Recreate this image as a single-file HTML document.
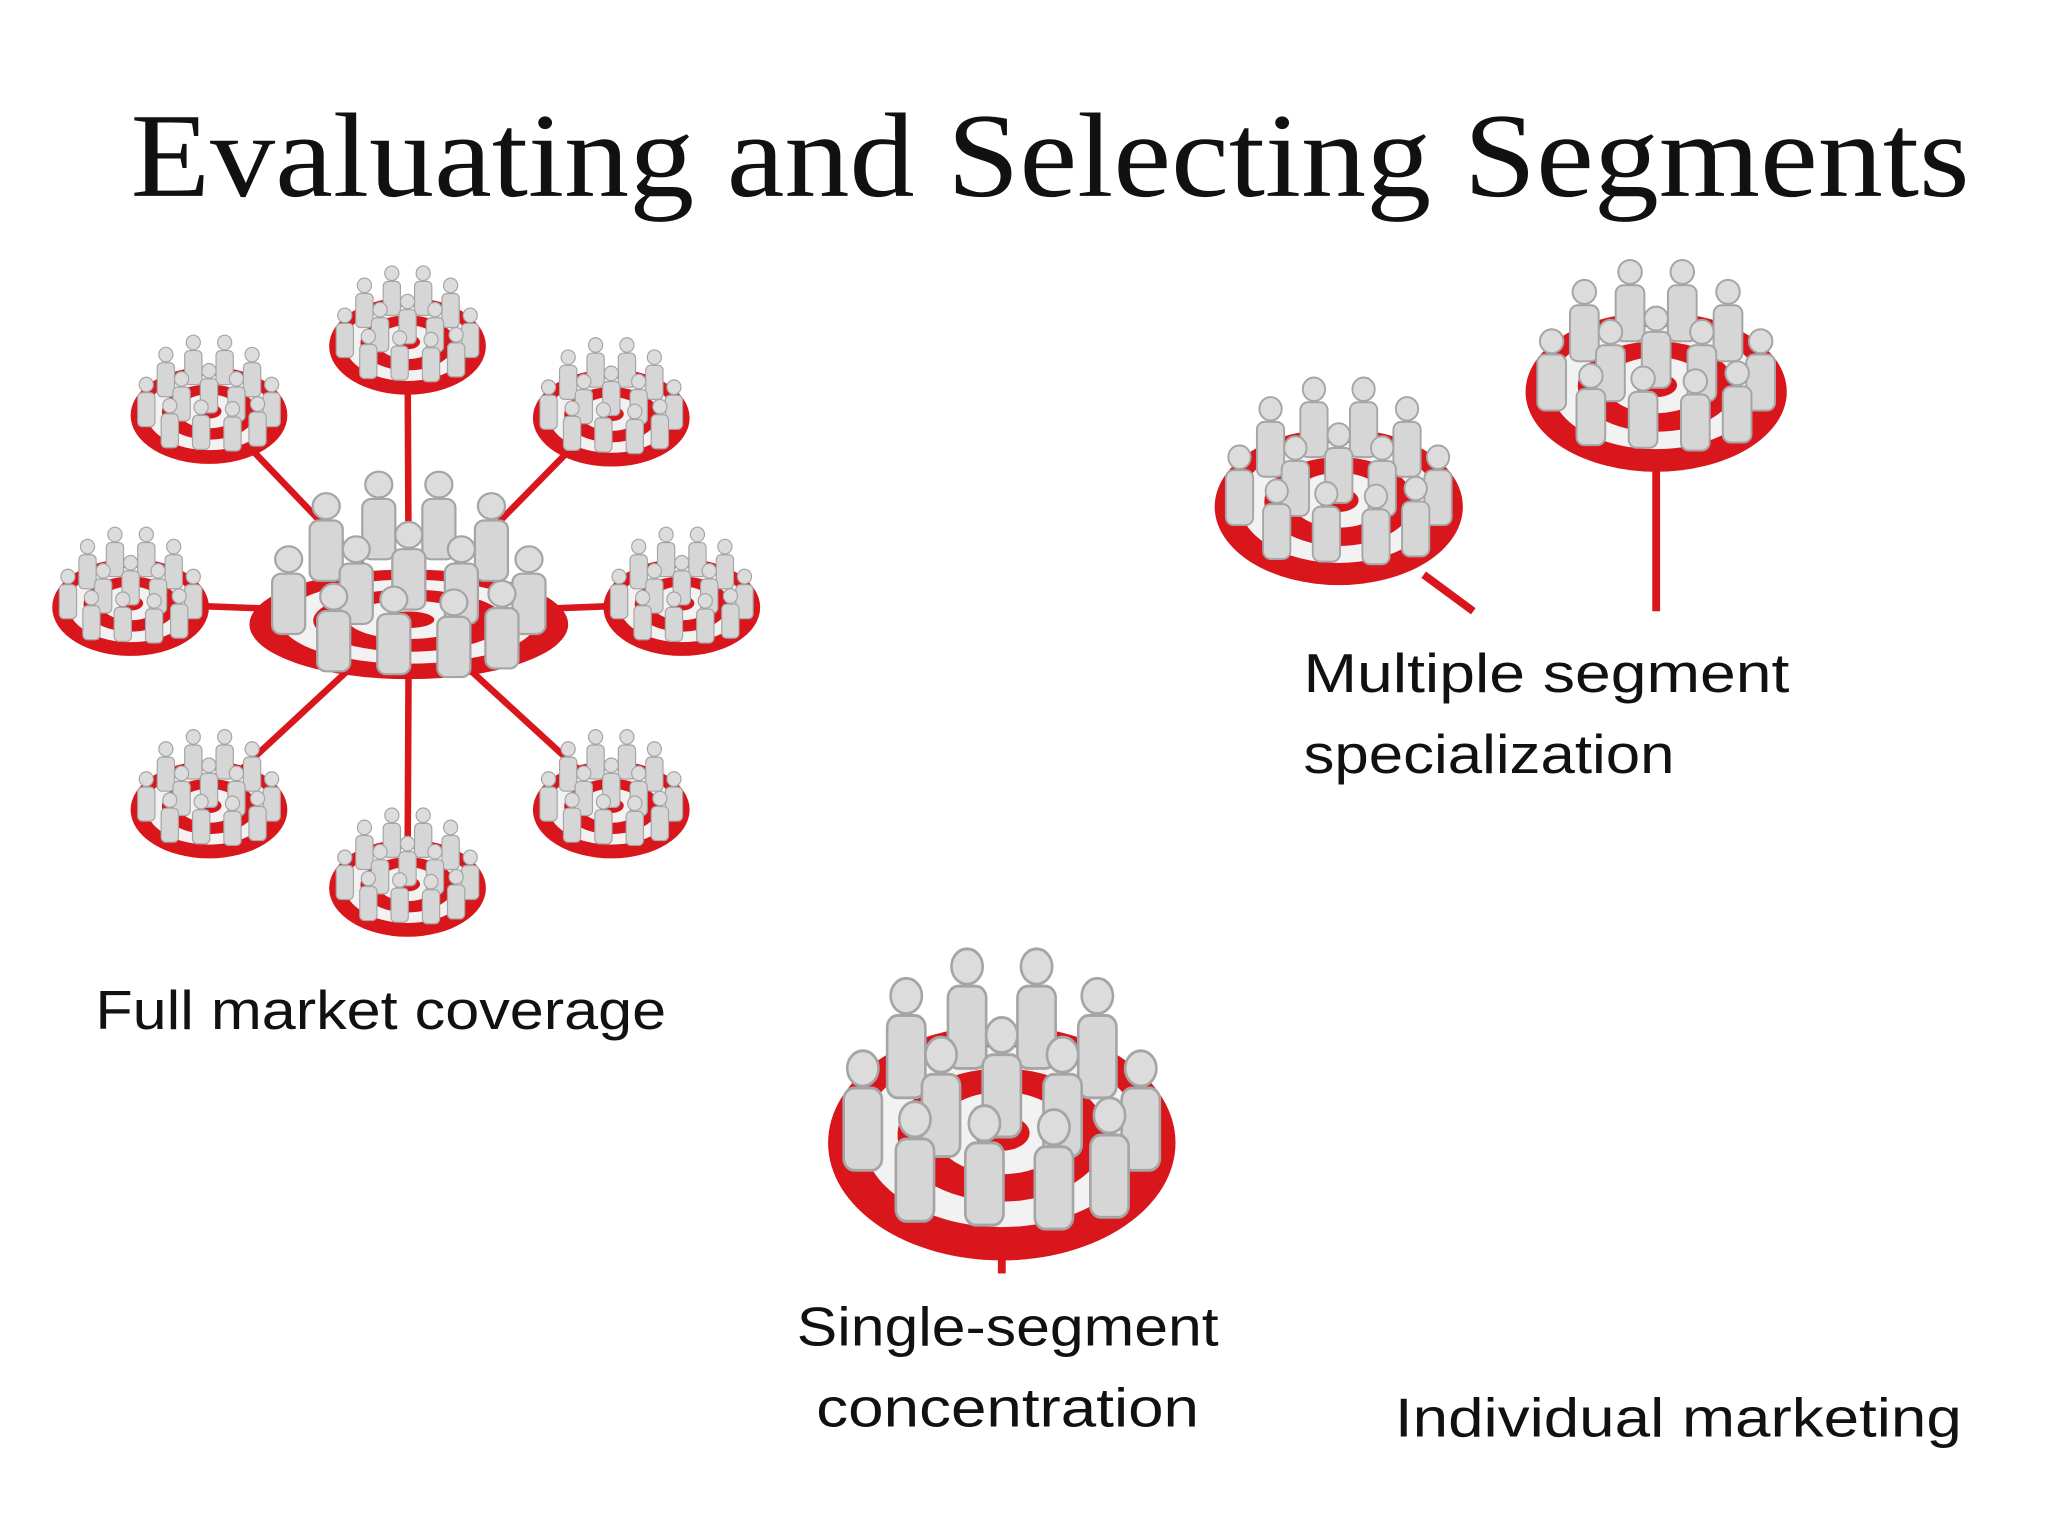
<!DOCTYPE html>
<html><head><meta charset="utf-8"><style>
html,body{margin:0;padding:0;background:#fff;}
svg{display:block;}
</style></head><body>
<svg width="2048" height="1536" viewBox="0 0 1568 1176" xmlns="http://www.w3.org/2000/svg">
<defs>
  <g id="target">
    <ellipse cx="0" cy="0" rx="100" ry="60" fill="#d9161c"/>
    <ellipse cx="0" cy="-3" rx="80" ry="46" fill="#f2f2f2"/>
    <ellipse cx="0" cy="-4" rx="60" ry="34" fill="#d9161c"/>
    <ellipse cx="0" cy="-5" rx="38" ry="21" fill="#f2f2f2"/>
    <ellipse cx="0" cy="-5" rx="16" ry="9" fill="#d9161c"/>
  </g>
  <g id="p">
    <circle cx="0" cy="-50" r="9" fill="#dcdcdc" stroke="#a5a5a5" stroke-width="1.5"/>
    <rect x="-11" y="-40" width="22" height="42" rx="6" fill="#d6d6d6" stroke="#a5a5a5" stroke-width="1.5"/>
  </g>
  <g id="crowd">
    <use href="#p" x="-55" y="-25"/><use href="#p" x="-20" y="-40"/><use href="#p" x="20" y="-40"/><use href="#p" x="55" y="-25"/>
    <use href="#p" x="-80" y="12"/><use href="#p" x="-35" y="5"/><use href="#p" x="0" y="-5"/><use href="#p" x="35" y="5"/><use href="#p" x="80" y="12"/>
    <use href="#p" x="-50" y="38"/><use href="#p" x="-10" y="40"/><use href="#p" x="30" y="42"/><use href="#p" x="62" y="36"/>
  </g>
  <g id="tc"><use href="#target"/><use href="#crowd"/></g>
</defs>

<text x="100" y="150" font-family="Liberation Serif, serif" font-size="92" textLength="1408" lengthAdjust="spacingAndGlyphs" fill="#111">Evaluating and Selecting Segments</text>

<g stroke="#d9161c" stroke-width="5">
  <line x1="313" y1="470" x2="160" y2="310"/><line x1="313" y1="470" x2="312" y2="258"/>
  <line x1="313" y1="470" x2="468" y2="312"/><line x1="313" y1="470" x2="100" y2="462"/>
  <line x1="313" y1="470" x2="522" y2="462"/><line x1="313" y1="470" x2="160" y2="612"/>
  <line x1="313" y1="470" x2="312" y2="675"/><line x1="313" y1="470" x2="468" y2="612"/>
</g>
<use href="#tc" transform="translate(160,318) scale(0.6,0.62)"/>
<use href="#tc" transform="translate(312,265) scale(0.6,0.62)"/>
<use href="#tc" transform="translate(468,320) scale(0.6,0.62)"/>
<use href="#tc" transform="translate(100,465) scale(0.6,0.62)"/>
<use href="#tc" transform="translate(522,465) scale(0.6,0.62)"/>
<use href="#tc" transform="translate(160,620) scale(0.6,0.62)"/>
<use href="#tc" transform="translate(312,680) scale(0.6,0.62)"/>
<use href="#tc" transform="translate(468,620) scale(0.6,0.62)"/>
<g transform="translate(313,478) scale(1.22,0.7)"><use href="#target"/></g>
<g transform="translate(313,470) scale(1.15,1.1)"><use href="#crowd"/></g>

<g stroke="#d9161c" stroke-width="6">
  <line x1="1268" y1="350" x2="1268" y2="468"/><line x1="1090" y1="440" x2="1128" y2="468"/>
</g>
<use href="#tc" transform="translate(1025,388) scale(0.95,1.0)"/>
<use href="#tc" transform="translate(1268,300) scale(1.0,1.02)"/>

<line x1="767" y1="960" x2="767" y2="975" stroke="#d9161c" stroke-width="6"/>
<use href="#tc" transform="translate(767,875) scale(1.33,1.5)"/>

<g font-family="Liberation Sans, sans-serif" font-size="42" fill="#111">
  <text x="73" y="788" textLength="437" lengthAdjust="spacingAndGlyphs">Full market coverage</text>
  <text x="998" y="530" textLength="372" lengthAdjust="spacingAndGlyphs">Multiple segment</text>
  <text x="998" y="592" textLength="284" lengthAdjust="spacingAndGlyphs">specialization</text>
  <text x="610" y="1030" textLength="323" lengthAdjust="spacingAndGlyphs">Single-segment</text>
  <text x="625" y="1092" textLength="293" lengthAdjust="spacingAndGlyphs">concentration</text>
  <text x="1068" y="1100" textLength="434" lengthAdjust="spacingAndGlyphs">Individual marketing</text>
</g>
</svg>
</body></html>
